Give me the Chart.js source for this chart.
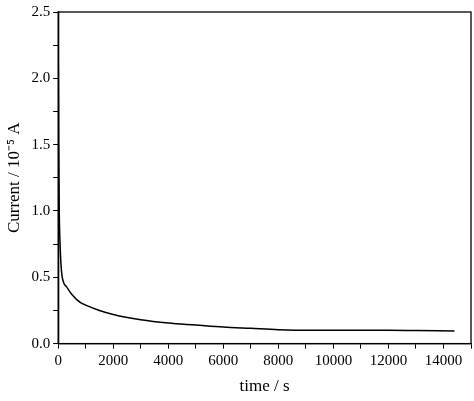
<!DOCTYPE html>
<html><head><meta charset="utf-8">
<script src="https://cdn.jsdelivr.net/npm/chart.js@4"></script>
<style>html,body{margin:0;padding:0;background:#fff}#w{width:474px;height:401px}</style>
</head><body><div id="w"><canvas id="c"></canvas></div>
<script>
const times=[0,10,20,40,70,120,200,300,500,800,1000,1500,2000,3000,4000,5000,6000,7000,8000,9000,10000,11000,12000,13000,14400];
const current=[2.23,2.0,1.5,1.0,0.75,0.55,0.46,0.43,0.37,0.31,0.29,0.25,0.22,0.18,0.155,0.14,0.125,0.115,0.105,0.1,0.1,0.1,0.1,0.098,0.095];
const frame={id:'frame',afterDraw(c){const a=c.chartArea,x=c.ctx;x.save();x.strokeStyle='#000';x.lineWidth=1.3;x.strokeRect(a.left,a.top,a.right-a.left,a.bottom-a.top);x.restore();}};
const F={family:'Liberation Serif',size:15};
new Chart(document.getElementById('c'),{type:'line',
data:{datasets:[{data:times.map((t,i)=>({x:t,y:current[i]})),borderColor:'#000',borderWidth:1.5,pointRadius:0,tension:0.3,cubicInterpolationMode:'monotone'}]},
options:{responsive:true,maintainAspectRatio:false,animation:false,layout:{padding:{top:6,right:3}},
plugins:{legend:{display:false},tooltip:{enabled:false}},
scales:{
x:{type:'linear',min:0,max:15000,border:{color:'#000',width:1.3},grid:{drawOnChartArea:false,color:'#000',tickLength:5},
ticks:{stepSize:1000,color:'#000',font:F,maxRotation:0,autoSkip:false,callback:v=>v%2000===0&&v<15000?v:''},
title:{display:true,text:'time / s',color:'#000',font:{family:'Liberation Serif',size:17}}},
y:{min:0,max:2.5,border:{color:'#000',width:1.3},grid:{drawOnChartArea:false,color:'#000',tickLength:5},
ticks:{stepSize:0.25,color:'#000',font:F,autoSkip:false,callback:v=>Math.abs(v*2-Math.round(v*2))<1e-6?v.toFixed(1):''},
title:{display:true,text:['Current / 10\u207B\u2075 A'],color:'#000',font:{family:'Liberation Serif',size:17}}}}},
plugins:[frame]});
</script></body></html>
